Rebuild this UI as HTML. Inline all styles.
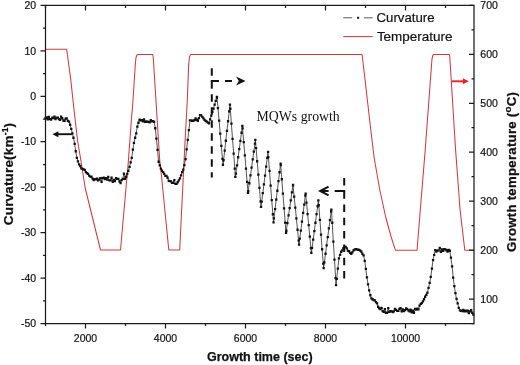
<!DOCTYPE html>
<html lang="en"><head><meta charset="utf-8"><title>Curvature and temperature vs growth time</title>
<style>html,body{margin:0;padding:0;background:#fff}body{width:520px;height:365px;overflow:hidden}svg{display:block}</style></head>
<body>
<svg width="520" height="365" viewBox="0 0 520 365">
<rect width="520" height="365" fill="#fff"/>
<polyline points="45.5,49.2 66.7,49.2 70.8,80.0 73.6,106.0 77.5,140.0 80.8,160.0 85.2,188.0 100.5,250.0 120.5,250.0 128.3,162.0 131.4,120.0 133.0,100.0 135.2,66.0 135.9,58.0 136.9,55.0 138.2,54.4 152.7,54.4 153.2,57.0 155.3,90.0 159.7,160.0 161.5,176.0 168.8,250.0 179.7,250.0 184.6,150.0 187.3,100.0 188.7,64.0 189.5,57.0 190.5,54.6 191.5,54.4 361.8,54.4 362.3,56.0 370.8,130.0 374.2,158.0 379.8,190.0 385.9,218.0 391.0,236.5 395.5,250.3 417.0,250.3 425.2,150.0 431.3,68.0 432.0,59.0 433.0,55.0 434.0,54.4 449.3,54.4 449.8,57.0 455.6,150.0 460.1,210.0 464.8,250.3 474.0,250.3" fill="none" stroke="#cf3a43" stroke-width="1.05" stroke-linejoin="round"/>
<polyline points="45.5,118.3 46.6,117.5 47.7,119.4 48.9,116.8 50.0,119.1 51.1,119.6 52.2,117.8 53.3,118.0 54.5,116.7 55.6,119.2 56.7,117.7 57.8,117.6 58.9,119.1 60.1,119.8 61.2,116.6 62.3,118.2 63.4,120.6 64.5,120.7 65.7,118.6 66.8,118.4 67.9,120.9 69.0,121.6 70.1,124.8 71.3,128.9 72.4,133.3 73.5,137.8 74.6,143.8 75.7,151.3 76.9,157.9 78.0,161.3 79.1,164.5 80.2,166.2 81.3,168.3 82.5,169.0 83.6,169.4 84.7,169.9 85.8,172.1 86.9,173.1 88.1,173.9 89.2,175.6 90.3,176.7 91.4,176.8 92.5,178.6 93.7,180.0 94.8,179.1 95.9,179.3 97.0,178.6 98.1,180.3 99.3,179.5 100.4,178.0 101.5,181.8 102.6,178.1 103.7,177.7 104.9,179.1 106.0,178.1 107.1,179.5 108.2,177.0 109.3,180.4 110.5,180.5 111.6,177.7 112.7,181.8 113.8,179.9 114.9,181.0 116.1,178.1 117.2,178.9 118.3,178.9 119.4,181.4 120.5,183.2 121.7,180.1 122.8,179.0 123.9,173.7 125.0,178.9 126.1,176.7 127.3,174.0 128.4,170.9 129.5,166.8 130.6,162.3 131.7,157.8 132.9,149.6 134.0,142.8 135.1,137.8 136.2,133.4 137.3,126.5 138.5,122.8 139.6,119.8 140.7,120.5 141.8,120.3 142.9,121.3 144.1,119.5 145.2,122.0 146.3,121.4 147.4,121.8 148.5,121.9 149.7,122.3 150.8,120.0 151.9,121.3 153.0,121.2 154.1,121.9 155.3,128.3 156.4,138.6 157.5,149.8 158.6,161.7 159.7,165.3 160.9,168.6 162.0,170.6 163.1,172.0 164.2,173.9 165.3,175.8 166.5,176.0 167.6,177.7 168.7,180.8 169.8,181.2 170.9,181.4 172.1,182.8 173.2,182.8 174.3,180.2 175.4,183.9 176.5,183.9 177.7,182.3 178.8,180.3 179.9,178.4 181.0,175.4 182.1,172.2 183.3,169.5 184.4,165.0 185.5,159.0 186.6,149.5 187.7,139.9 188.9,130.0 190.0,120.3 191.1,120.4 192.2,120.8 193.3,120.9 194.5,120.0 195.6,118.4 196.7,119.7 197.8,120.7 198.9,118.0 200.1,115.2 201.2,115.4 202.3,117.0 203.4,118.3 204.5,119.8 205.7,120.9 206.8,121.5 207.9,122.6 209.0,123.3 210.1,119.4 211.3,115.7 212.4,112.0 213.5,108.7 214.6,104.6 215.7,100.8 216.9,97.7 217.0,97.0 218.0,108.1 219.1,120.6 220.2,133.5 221.3,145.9 222.5,158.9 223.0,165.0 223.6,160.3 224.7,150.5 225.8,140.8 226.9,130.9 228.1,121.3 229.2,111.5 230.0,104.6 230.3,108.8 231.4,123.7 232.5,138.8 233.7,153.6 234.8,168.5 235.4,177.0 235.9,173.5 237.0,165.5 238.1,157.2 239.3,149.1 240.4,140.9 241.5,132.7 242.4,126.0 242.6,128.5 243.7,142.0 244.9,155.3 246.0,168.5 247.1,181.9 248.0,193.0 248.2,191.3 249.3,183.3 250.5,175.5 251.6,167.6 252.7,159.3 253.8,151.6 254.9,143.6 255.4,140.0 256.1,148.2 257.2,161.2 258.3,174.5 259.4,187.9 260.5,201.3 261.0,207.0 261.7,201.6 262.8,193.1 263.9,184.5 265.0,175.6 266.1,166.6 267.3,157.9 268.0,152.0 268.4,157.0 269.5,170.9 270.6,185.6 271.7,200.0 272.9,214.3 273.5,222.3 274.0,218.5 275.1,209.1 276.2,199.6 277.3,190.7 278.5,181.2 279.6,172.2 280.6,163.6 280.7,165.2 281.8,179.2 282.9,193.6 284.1,208.3 285.2,222.6 286.0,233.0 286.3,230.7 287.4,223.0 288.5,215.4 289.7,208.1 290.8,200.4 291.9,192.3 293.0,185.0 293.0,185.4 294.1,196.6 295.3,207.5 296.4,218.5 297.5,229.7 298.6,240.6 299.0,244.6 299.7,238.6 300.9,230.5 302.0,221.7 303.1,212.9 304.2,204.5 305.3,195.6 305.6,193.6 306.5,202.6 307.6,214.1 308.7,225.2 309.8,236.7 310.9,248.2 311.4,253.0 312.1,247.9 313.2,239.7 314.3,231.1 315.4,222.7 316.5,214.2 317.7,206.2 318.4,200.4 318.8,205.3 319.9,219.9 321.0,234.5 322.1,249.3 323.3,263.5 323.6,268.0 324.4,262.4 325.5,253.8 326.6,245.4 327.7,237.0 328.9,228.3 330.0,220.2 331.1,211.7 331.4,209.6 332.2,222.7 333.3,241.6 334.5,259.6 335.6,278.1 336.0,285.0 336.7,278.8 337.8,268.7 338.9,258.4 340.1,254.8 341.2,251.8 342.3,250.3 343.4,248.1 344.5,247.1 345.7,246.9 346.8,248.4 347.9,250.8 349.0,251.2 350.1,252.9 351.3,253.9 352.4,252.4 353.5,250.4 354.6,249.5 355.7,249.1 356.9,249.3 358.0,249.7 359.1,250.0 360.2,250.6 361.3,251.5 362.5,253.9 363.6,255.5 364.7,260.9 365.8,268.8 366.9,277.4 368.1,284.4 369.2,290.4 370.3,295.2 371.4,298.4 372.5,299.2 373.7,300.2 374.8,300.4 375.9,302.2 377.0,303.5 378.1,306.7 379.3,308.4 380.4,309.0 381.5,307.9 382.6,311.2 383.7,311.8 384.9,309.0 386.0,312.7 387.1,312.8 388.2,308.1 389.3,311.9 390.5,311.2 391.6,311.4 392.7,312.1 393.8,311.4 394.9,308.9 396.1,309.9 397.2,310.9 398.3,310.9 399.4,309.0 400.5,308.2 401.7,311.3 402.8,309.3 403.9,311.1 405.0,310.1 406.1,308.3 407.3,309.1 408.4,310.3 409.5,311.4 410.6,309.7 411.7,312.2 412.9,310.7 414.0,312.7 415.1,309.0 416.2,309.6 417.3,308.7 418.5,309.3 419.6,305.5 420.7,303.9 421.8,303.1 422.9,301.4 424.1,299.3 425.2,296.8 426.3,294.9 427.4,292.6 428.5,287.9 429.7,282.8 430.8,276.9 431.9,268.5 433.0,260.0 434.1,254.8 435.3,250.1 436.4,251.6 437.5,250.6 438.6,250.4 439.7,247.9 440.9,252.0 442.0,249.4 443.1,250.9 444.2,249.1 445.3,249.4 446.5,250.2 447.6,251.6 448.7,249.9 449.8,250.7 450.9,257.7 452.1,266.4 453.2,277.6 454.3,286.2 455.4,293.1 456.5,299.0 457.7,303.5 458.8,307.9 459.9,310.4 461.0,310.7 462.1,311.2 463.3,309.8 464.4,311.3 465.5,310.7 466.6,311.2 467.7,310.5 468.9,313.1 470.0,311.3 471.1,310.1 472.2,312.8 473.3,314.7" fill="none" stroke="#2a2a2a" stroke-width="0.8" stroke-linejoin="round"/>
<path d="M44.4 117.1h2.3v2.3h-2.3zM45.5 116.3h2.3v2.3h-2.3zM46.6 118.3h2.3v2.3h-2.3zM47.7 115.7h2.3v2.3h-2.3zM48.8 117.9h2.3v2.3h-2.3zM49.9 118.4h2.3v2.3h-2.3zM51.1 116.6h2.3v2.3h-2.3zM52.2 116.9h2.3v2.3h-2.3zM53.3 115.5h2.3v2.3h-2.3zM54.4 118.0h2.3v2.3h-2.3zM55.5 116.5h2.3v2.3h-2.3zM56.7 116.5h2.3v2.3h-2.3zM57.8 118.0h2.3v2.3h-2.3zM58.9 118.6h2.3v2.3h-2.3zM60.0 115.4h2.3v2.3h-2.3zM61.1 117.1h2.3v2.3h-2.3zM62.3 119.5h2.3v2.3h-2.3zM63.4 119.6h2.3v2.3h-2.3zM64.5 117.5h2.3v2.3h-2.3zM65.6 117.3h2.3v2.3h-2.3zM66.7 119.7h2.3v2.3h-2.3zM67.9 120.5h2.3v2.3h-2.3zM69.0 123.6h2.3v2.3h-2.3zM70.1 127.8h2.3v2.3h-2.3zM71.2 132.2h2.3v2.3h-2.3zM72.3 136.6h2.3v2.3h-2.3zM73.5 142.7h2.3v2.3h-2.3zM74.6 150.1h2.3v2.3h-2.3zM75.7 156.8h2.3v2.3h-2.3zM76.8 160.2h2.3v2.3h-2.3zM78.0 163.3h2.3v2.3h-2.3zM79.1 165.0h2.3v2.3h-2.3zM80.2 167.2h2.3v2.3h-2.3zM81.3 167.8h2.3v2.3h-2.3zM82.4 168.3h2.3v2.3h-2.3zM83.6 168.8h2.3v2.3h-2.3zM84.7 170.9h2.3v2.3h-2.3zM85.8 171.9h2.3v2.3h-2.3zM86.9 172.7h2.3v2.3h-2.3zM88.0 174.5h2.3v2.3h-2.3zM89.2 175.5h2.3v2.3h-2.3zM90.3 175.6h2.3v2.3h-2.3zM91.4 177.5h2.3v2.3h-2.3zM92.5 178.9h2.3v2.3h-2.3zM93.6 177.9h2.3v2.3h-2.3zM94.8 178.2h2.3v2.3h-2.3zM95.9 177.5h2.3v2.3h-2.3zM97.0 179.1h2.3v2.3h-2.3zM98.1 178.4h2.3v2.3h-2.3zM99.2 176.9h2.3v2.3h-2.3zM100.4 180.6h2.3v2.3h-2.3zM101.5 177.0h2.3v2.3h-2.3zM102.6 176.6h2.3v2.3h-2.3zM103.7 178.0h2.3v2.3h-2.3zM104.8 176.9h2.3v2.3h-2.3zM106.0 178.4h2.3v2.3h-2.3zM107.1 175.8h2.3v2.3h-2.3zM108.2 179.2h2.3v2.3h-2.3zM109.3 179.3h2.3v2.3h-2.3zM110.4 176.6h2.3v2.3h-2.3zM111.6 180.6h2.3v2.3h-2.3zM112.7 178.8h2.3v2.3h-2.3zM113.8 179.9h2.3v2.3h-2.3zM114.9 176.9h2.3v2.3h-2.3zM116.0 177.7h2.3v2.3h-2.3zM117.2 177.7h2.3v2.3h-2.3zM118.3 180.3h2.3v2.3h-2.3zM119.4 182.0h2.3v2.3h-2.3zM120.5 178.9h2.3v2.3h-2.3zM121.6 177.8h2.3v2.3h-2.3zM122.8 172.6h2.3v2.3h-2.3zM123.9 177.8h2.3v2.3h-2.3zM125.0 175.6h2.3v2.3h-2.3zM126.1 172.8h2.3v2.3h-2.3zM127.2 169.7h2.3v2.3h-2.3zM128.4 165.7h2.3v2.3h-2.3zM129.5 161.2h2.3v2.3h-2.3zM130.6 156.7h2.3v2.3h-2.3zM131.7 148.4h2.3v2.3h-2.3zM132.8 141.7h2.3v2.3h-2.3zM134.0 136.6h2.3v2.3h-2.3zM135.1 132.3h2.3v2.3h-2.3zM136.2 125.4h2.3v2.3h-2.3zM137.3 121.6h2.3v2.3h-2.3zM138.4 118.6h2.3v2.3h-2.3zM139.6 119.3h2.3v2.3h-2.3zM140.7 119.1h2.3v2.3h-2.3zM141.8 120.2h2.3v2.3h-2.3zM142.9 118.3h2.3v2.3h-2.3zM144.0 120.8h2.3v2.3h-2.3zM145.2 120.3h2.3v2.3h-2.3zM146.3 120.6h2.3v2.3h-2.3zM147.4 120.8h2.3v2.3h-2.3zM148.5 121.1h2.3v2.3h-2.3zM149.6 118.9h2.3v2.3h-2.3zM150.8 120.2h2.3v2.3h-2.3zM151.9 120.1h2.3v2.3h-2.3zM153.0 120.7h2.3v2.3h-2.3zM154.1 127.1h2.3v2.3h-2.3zM155.2 137.4h2.3v2.3h-2.3zM156.4 148.7h2.3v2.3h-2.3zM157.5 160.6h2.3v2.3h-2.3zM158.6 164.2h2.3v2.3h-2.3zM159.7 167.4h2.3v2.3h-2.3zM160.8 169.4h2.3v2.3h-2.3zM162.0 170.9h2.3v2.3h-2.3zM163.1 172.7h2.3v2.3h-2.3zM164.2 174.7h2.3v2.3h-2.3zM165.3 174.8h2.3v2.3h-2.3zM166.4 176.6h2.3v2.3h-2.3zM167.6 179.7h2.3v2.3h-2.3zM168.7 180.0h2.3v2.3h-2.3zM169.8 180.3h2.3v2.3h-2.3zM170.9 181.7h2.3v2.3h-2.3zM172.0 181.6h2.3v2.3h-2.3zM173.2 179.0h2.3v2.3h-2.3zM174.3 182.8h2.3v2.3h-2.3zM175.4 182.7h2.3v2.3h-2.3zM176.5 181.1h2.3v2.3h-2.3zM177.6 179.2h2.3v2.3h-2.3zM178.8 177.2h2.3v2.3h-2.3zM179.9 174.2h2.3v2.3h-2.3zM181.0 171.0h2.3v2.3h-2.3zM182.1 168.4h2.3v2.3h-2.3zM183.2 163.9h2.3v2.3h-2.3zM184.4 157.9h2.3v2.3h-2.3zM185.5 148.3h2.3v2.3h-2.3zM186.6 138.7h2.3v2.3h-2.3zM187.7 128.9h2.3v2.3h-2.3zM188.8 119.2h2.3v2.3h-2.3zM190.0 119.3h2.3v2.3h-2.3zM191.1 119.6h2.3v2.3h-2.3zM192.2 119.7h2.3v2.3h-2.3zM193.3 118.9h2.3v2.3h-2.3zM194.4 117.2h2.3v2.3h-2.3zM195.6 118.6h2.3v2.3h-2.3zM196.7 119.6h2.3v2.3h-2.3zM197.8 116.9h2.3v2.3h-2.3zM198.9 114.0h2.3v2.3h-2.3zM200.0 114.3h2.3v2.3h-2.3zM201.2 115.8h2.3v2.3h-2.3zM202.3 117.2h2.3v2.3h-2.3zM203.4 118.7h2.3v2.3h-2.3zM204.5 119.8h2.3v2.3h-2.3zM205.6 120.4h2.3v2.3h-2.3zM206.8 121.4h2.3v2.3h-2.3zM207.9 122.1h2.3v2.3h-2.3zM209.0 118.2h2.3v2.3h-2.3zM210.1 114.5h2.3v2.3h-2.3zM211.2 110.8h2.3v2.3h-2.3zM212.4 107.5h2.3v2.3h-2.3zM213.5 103.4h2.3v2.3h-2.3zM214.6 99.7h2.3v2.3h-2.3zM215.7 96.6h2.3v2.3h-2.3zM215.8 95.8h2.3v2.3h-2.3zM216.8 107.0h2.3v2.3h-2.3zM218.0 119.4h2.3v2.3h-2.3zM219.1 132.4h2.3v2.3h-2.3zM220.2 144.8h2.3v2.3h-2.3zM221.3 157.7h2.3v2.3h-2.3zM221.8 163.8h2.3v2.3h-2.3zM222.4 159.1h2.3v2.3h-2.3zM223.6 149.4h2.3v2.3h-2.3zM224.7 139.6h2.3v2.3h-2.3zM225.8 129.7h2.3v2.3h-2.3zM226.9 120.1h2.3v2.3h-2.3zM228.0 110.3h2.3v2.3h-2.3zM228.8 103.4h2.3v2.3h-2.3zM229.2 107.6h2.3v2.3h-2.3zM230.3 122.5h2.3v2.3h-2.3zM231.4 137.7h2.3v2.3h-2.3zM232.5 152.4h2.3v2.3h-2.3zM233.6 167.4h2.3v2.3h-2.3zM234.2 175.8h2.3v2.3h-2.3zM234.8 172.4h2.3v2.3h-2.3zM235.9 164.3h2.3v2.3h-2.3zM237.0 156.1h2.3v2.3h-2.3zM238.1 147.9h2.3v2.3h-2.3zM239.2 139.8h2.3v2.3h-2.3zM240.4 131.6h2.3v2.3h-2.3zM241.2 124.8h2.3v2.3h-2.3zM241.5 127.3h2.3v2.3h-2.3zM242.6 140.9h2.3v2.3h-2.3zM243.7 154.2h2.3v2.3h-2.3zM244.8 167.4h2.3v2.3h-2.3zM246.0 180.8h2.3v2.3h-2.3zM246.8 191.8h2.3v2.3h-2.3zM247.1 190.1h2.3v2.3h-2.3zM248.2 182.1h2.3v2.3h-2.3zM249.3 174.3h2.3v2.3h-2.3zM250.4 166.5h2.3v2.3h-2.3zM251.6 158.2h2.3v2.3h-2.3zM252.7 150.4h2.3v2.3h-2.3zM253.8 142.4h2.3v2.3h-2.3zM254.2 138.8h2.3v2.3h-2.3zM254.9 147.0h2.3v2.3h-2.3zM256.0 160.1h2.3v2.3h-2.3zM257.2 173.4h2.3v2.3h-2.3zM258.3 186.8h2.3v2.3h-2.3zM259.4 200.2h2.3v2.3h-2.3zM259.9 205.8h2.3v2.3h-2.3zM260.5 200.5h2.3v2.3h-2.3zM261.6 191.9h2.3v2.3h-2.3zM262.8 183.3h2.3v2.3h-2.3zM263.9 174.5h2.3v2.3h-2.3zM265.0 165.5h2.3v2.3h-2.3zM266.1 156.8h2.3v2.3h-2.3zM266.9 150.8h2.3v2.3h-2.3zM267.2 155.9h2.3v2.3h-2.3zM268.4 169.8h2.3v2.3h-2.3zM269.5 184.4h2.3v2.3h-2.3zM270.6 198.9h2.3v2.3h-2.3zM271.7 213.1h2.3v2.3h-2.3zM272.4 221.2h2.3v2.3h-2.3zM272.8 217.3h2.3v2.3h-2.3zM274.0 207.9h2.3v2.3h-2.3zM275.1 198.5h2.3v2.3h-2.3zM276.2 189.6h2.3v2.3h-2.3zM277.3 180.0h2.3v2.3h-2.3zM278.4 171.1h2.3v2.3h-2.3zM279.5 162.4h2.3v2.3h-2.3zM279.6 164.0h2.3v2.3h-2.3zM280.7 178.1h2.3v2.3h-2.3zM281.8 192.5h2.3v2.3h-2.3zM282.9 207.2h2.3v2.3h-2.3zM284.0 221.4h2.3v2.3h-2.3zM284.9 231.8h2.3v2.3h-2.3zM285.2 229.6h2.3v2.3h-2.3zM286.3 221.9h2.3v2.3h-2.3zM287.4 214.2h2.3v2.3h-2.3zM288.5 207.0h2.3v2.3h-2.3zM289.6 199.3h2.3v2.3h-2.3zM290.8 191.2h2.3v2.3h-2.3zM291.9 183.8h2.3v2.3h-2.3zM291.9 184.2h2.3v2.3h-2.3zM293.0 195.5h2.3v2.3h-2.3zM294.1 206.4h2.3v2.3h-2.3zM295.2 217.3h2.3v2.3h-2.3zM296.4 228.6h2.3v2.3h-2.3zM297.5 239.5h2.3v2.3h-2.3zM297.9 243.4h2.3v2.3h-2.3zM298.6 237.4h2.3v2.3h-2.3zM299.7 229.4h2.3v2.3h-2.3zM300.8 220.5h2.3v2.3h-2.3zM302.0 211.8h2.3v2.3h-2.3zM303.1 203.4h2.3v2.3h-2.3zM304.2 194.4h2.3v2.3h-2.3zM304.5 192.4h2.3v2.3h-2.3zM305.3 201.5h2.3v2.3h-2.3zM306.4 212.9h2.3v2.3h-2.3zM307.6 224.0h2.3v2.3h-2.3zM308.7 235.5h2.3v2.3h-2.3zM309.8 247.0h2.3v2.3h-2.3zM310.2 251.8h2.3v2.3h-2.3zM310.9 246.7h2.3v2.3h-2.3zM312.0 238.5h2.3v2.3h-2.3zM313.2 229.9h2.3v2.3h-2.3zM314.3 221.6h2.3v2.3h-2.3zM315.4 213.0h2.3v2.3h-2.3zM316.5 205.1h2.3v2.3h-2.3zM317.2 199.2h2.3v2.3h-2.3zM317.6 204.1h2.3v2.3h-2.3zM318.8 218.7h2.3v2.3h-2.3zM319.9 233.4h2.3v2.3h-2.3zM321.0 248.1h2.3v2.3h-2.3zM322.1 262.4h2.3v2.3h-2.3zM322.5 266.9h2.3v2.3h-2.3zM323.2 261.3h2.3v2.3h-2.3zM324.4 252.6h2.3v2.3h-2.3zM325.5 244.3h2.3v2.3h-2.3zM326.6 235.9h2.3v2.3h-2.3zM327.7 227.2h2.3v2.3h-2.3zM328.8 219.0h2.3v2.3h-2.3zM330.0 210.5h2.3v2.3h-2.3zM330.2 208.4h2.3v2.3h-2.3zM331.1 221.6h2.3v2.3h-2.3zM332.2 240.4h2.3v2.3h-2.3zM333.3 258.4h2.3v2.3h-2.3zM334.4 276.9h2.3v2.3h-2.3zM334.9 283.9h2.3v2.3h-2.3zM335.6 277.7h2.3v2.3h-2.3zM336.7 267.5h2.3v2.3h-2.3zM337.8 257.3h2.3v2.3h-2.3zM338.9 253.7h2.3v2.3h-2.3zM340.0 250.6h2.3v2.3h-2.3zM341.2 249.2h2.3v2.3h-2.3zM342.3 246.9h2.3v2.3h-2.3zM343.4 246.0h2.3v2.3h-2.3zM344.5 245.8h2.3v2.3h-2.3zM345.6 247.3h2.3v2.3h-2.3zM346.8 249.7h2.3v2.3h-2.3zM347.9 250.1h2.3v2.3h-2.3zM349.0 251.8h2.3v2.3h-2.3zM350.1 252.8h2.3v2.3h-2.3zM351.2 251.3h2.3v2.3h-2.3zM352.4 249.3h2.3v2.3h-2.3zM353.5 248.4h2.3v2.3h-2.3zM354.6 248.0h2.3v2.3h-2.3zM355.7 248.2h2.3v2.3h-2.3zM356.8 248.6h2.3v2.3h-2.3zM358.0 248.8h2.3v2.3h-2.3zM359.1 249.5h2.3v2.3h-2.3zM360.2 250.4h2.3v2.3h-2.3zM361.3 252.7h2.3v2.3h-2.3zM362.4 254.3h2.3v2.3h-2.3zM363.6 259.8h2.3v2.3h-2.3zM364.7 267.7h2.3v2.3h-2.3zM365.8 276.2h2.3v2.3h-2.3zM366.9 283.2h2.3v2.3h-2.3zM368.0 289.3h2.3v2.3h-2.3zM369.2 294.1h2.3v2.3h-2.3zM370.3 297.3h2.3v2.3h-2.3zM371.4 298.1h2.3v2.3h-2.3zM372.5 299.0h2.3v2.3h-2.3zM373.6 299.2h2.3v2.3h-2.3zM374.8 301.0h2.3v2.3h-2.3zM375.9 302.3h2.3v2.3h-2.3zM377.0 305.6h2.3v2.3h-2.3zM378.1 307.2h2.3v2.3h-2.3zM379.2 307.9h2.3v2.3h-2.3zM380.4 306.8h2.3v2.3h-2.3zM381.5 310.0h2.3v2.3h-2.3zM382.6 310.7h2.3v2.3h-2.3zM383.7 307.9h2.3v2.3h-2.3zM384.8 311.6h2.3v2.3h-2.3zM386.0 311.6h2.3v2.3h-2.3zM387.1 306.9h2.3v2.3h-2.3zM388.2 310.8h2.3v2.3h-2.3zM389.3 310.1h2.3v2.3h-2.3zM390.4 310.2h2.3v2.3h-2.3zM391.6 311.0h2.3v2.3h-2.3zM392.7 310.3h2.3v2.3h-2.3zM393.8 307.7h2.3v2.3h-2.3zM394.9 308.8h2.3v2.3h-2.3zM396.0 309.8h2.3v2.3h-2.3zM397.2 309.7h2.3v2.3h-2.3zM398.3 307.8h2.3v2.3h-2.3zM399.4 307.0h2.3v2.3h-2.3zM400.5 310.1h2.3v2.3h-2.3zM401.6 308.2h2.3v2.3h-2.3zM402.8 310.0h2.3v2.3h-2.3zM403.9 308.9h2.3v2.3h-2.3zM405.0 307.2h2.3v2.3h-2.3zM406.1 307.9h2.3v2.3h-2.3zM407.2 309.2h2.3v2.3h-2.3zM408.4 310.3h2.3v2.3h-2.3zM409.5 308.6h2.3v2.3h-2.3zM410.6 311.1h2.3v2.3h-2.3zM411.7 309.6h2.3v2.3h-2.3zM412.8 311.6h2.3v2.3h-2.3zM414.0 307.8h2.3v2.3h-2.3zM415.1 308.4h2.3v2.3h-2.3zM416.2 307.5h2.3v2.3h-2.3zM417.3 308.2h2.3v2.3h-2.3zM418.4 304.4h2.3v2.3h-2.3zM419.6 302.8h2.3v2.3h-2.3zM420.7 301.9h2.3v2.3h-2.3zM421.8 300.2h2.3v2.3h-2.3zM422.9 298.1h2.3v2.3h-2.3zM424.0 295.6h2.3v2.3h-2.3zM425.2 293.7h2.3v2.3h-2.3zM426.3 291.5h2.3v2.3h-2.3zM427.4 286.7h2.3v2.3h-2.3zM428.5 281.7h2.3v2.3h-2.3zM429.6 275.7h2.3v2.3h-2.3zM430.8 267.4h2.3v2.3h-2.3zM431.9 258.9h2.3v2.3h-2.3zM433.0 253.7h2.3v2.3h-2.3zM434.1 249.0h2.3v2.3h-2.3zM435.2 250.5h2.3v2.3h-2.3zM436.4 249.4h2.3v2.3h-2.3zM437.5 249.3h2.3v2.3h-2.3zM438.6 246.8h2.3v2.3h-2.3zM439.7 250.8h2.3v2.3h-2.3zM440.8 248.2h2.3v2.3h-2.3zM442.0 249.7h2.3v2.3h-2.3zM443.1 248.0h2.3v2.3h-2.3zM444.2 248.3h2.3v2.3h-2.3zM445.3 249.1h2.3v2.3h-2.3zM446.4 250.5h2.3v2.3h-2.3zM447.6 248.7h2.3v2.3h-2.3zM448.7 249.6h2.3v2.3h-2.3zM449.8 256.5h2.3v2.3h-2.3zM450.9 265.3h2.3v2.3h-2.3zM452.0 276.4h2.3v2.3h-2.3zM453.2 285.0h2.3v2.3h-2.3zM454.3 292.0h2.3v2.3h-2.3zM455.4 297.8h2.3v2.3h-2.3zM456.5 302.3h2.3v2.3h-2.3zM457.6 306.7h2.3v2.3h-2.3zM458.8 309.2h2.3v2.3h-2.3zM459.9 309.6h2.3v2.3h-2.3zM461.0 310.0h2.3v2.3h-2.3zM462.1 308.7h2.3v2.3h-2.3zM463.2 310.2h2.3v2.3h-2.3zM464.4 309.6h2.3v2.3h-2.3zM465.5 310.1h2.3v2.3h-2.3zM466.6 309.4h2.3v2.3h-2.3zM467.7 311.9h2.3v2.3h-2.3zM468.8 310.2h2.3v2.3h-2.3zM470.0 308.9h2.3v2.3h-2.3zM471.1 311.6h2.3v2.3h-2.3zM472.2 313.5h2.3v2.3h-2.3z" fill="#111"/>
<g stroke="#1c1c1c" stroke-width="1.25" fill="none" stroke-linecap="butt">
<path d="M45.5 4.775V324.125M474.0 4.775V324.125M44.875 5.4H474.625M44.875 323.5H474.625"/>
<path d="M45.5 5.4h-5M45.5 28.1h-2.5M45.5 50.8h-5M45.5 73.6h-2.5M45.5 96.3h-5M45.5 119.0h-2.5M45.5 141.7h-5M45.5 164.5h-2.5M45.5 187.2h-5M45.5 209.9h-2.5M45.5 232.6h-5M45.5 255.3h-2.5M45.5 278.1h-5M45.5 300.8h-2.5M45.5 323.5h-5M474.0 5.4h-5M474.0 29.9h-2.5M474.0 54.3h-5M474.0 78.8h-2.5M474.0 103.3h-5M474.0 127.7h-2.5M474.0 152.2h-5M474.0 176.7h-2.5M474.0 201.2h-5M474.0 225.6h-2.5M474.0 250.1h-5M474.0 274.6h-2.5M474.0 299.0h-5M474.0 323.5h-2.5M45.5 323.5v2.5M45.5 5.4v2.5M85.5 323.5v5M85.5 5.4v5M125.5 323.5v2.5M125.5 5.4v2.5M165.5 323.5v5M165.5 5.4v5M205.5 323.5v2.5M205.5 5.4v2.5M245.5 323.5v5M245.5 5.4v5M285.5 323.5v2.5M285.5 5.4v2.5M325.5 323.5v5M325.5 5.4v5M365.5 323.5v2.5M365.5 5.4v2.5M405.5 323.5v5M405.5 5.4v5M445.5 323.5v2.5M445.5 5.4v2.5"/>
</g>
<g font-family="'Liberation Sans',sans-serif" font-size="10.5" fill="#111" stroke="#111" stroke-width="0.2">
<text x="36.2" y="9.1" text-anchor="end">20</text>
<text x="36.2" y="54.5" text-anchor="end">10</text>
<text x="36.2" y="100.0" text-anchor="end">0</text>
<text x="36.2" y="145.4" text-anchor="end">-10</text>
<text x="36.2" y="190.9" text-anchor="end">-20</text>
<text x="36.2" y="236.3" text-anchor="end">-30</text>
<text x="36.2" y="281.8" text-anchor="end">-40</text>
<text x="36.2" y="327.2" text-anchor="end">-50</text>
<text x="480.3" y="9.1">700</text>
<text x="480.3" y="58.0">600</text>
<text x="480.3" y="107.0">500</text>
<text x="480.3" y="155.9">400</text>
<text x="480.3" y="204.9">300</text>
<text x="480.3" y="253.8">200</text>
<text x="480.3" y="302.7">100</text>
<text x="85.5" y="341.8" text-anchor="middle">2000</text>
<text x="165.5" y="341.8" text-anchor="middle">4000</text>
<text x="245.5" y="341.8" text-anchor="middle">6000</text>
<text x="325.5" y="341.8" text-anchor="middle">8000</text>
<text x="405.5" y="341.8" text-anchor="middle">10000</text>
</g>
<g font-family="'Liberation Sans',sans-serif" font-weight="bold" fill="#111" stroke="#111" stroke-width="0.25">
<text x="259.8" y="361.3" font-size="12.5" text-anchor="middle">Growth time (sec)</text>
<text transform="translate(13.4 225.2) rotate(-90)" font-size="13.5" letter-spacing="0.17">Curvature(km<tspan font-size="8.5" dy="-5.5">-1</tspan><tspan dy="5.5">)</tspan></text>
<text transform="translate(516.3 252) rotate(-90)" font-size="13.2" letter-spacing="0.27">Growth temperature (<tspan font-size="9.8" dy="-5.2">o</tspan><tspan dy="5.2">C)</tspan></text>
</g>
<g font-family="'Liberation Sans',sans-serif" font-size="13.2" fill="#111" stroke="#111" stroke-width="0.2">
<text x="376.6" y="22.4">Curvature</text>
<text x="376.9" y="41" textLength="75.6" lengthAdjust="spacingAndGlyphs">Temperature</text>
</g>
<path d="M343.3 17.8H352.2M363.9 17.8H372.7" stroke="#444" stroke-width="0.9"/>
<rect x="357.1" y="16.8" width="2" height="2" fill="#111"/>
<path d="M343.3 36.6H372.7" stroke="#cf3a43" stroke-width="1.05"/>
<text x="256.6" y="120.9" font-family="'Liberation Serif',serif" font-size="13.8" fill="#111">MQWs growth</text>
<g stroke="#111" stroke-width="2" fill="none">
<path d="M211.8 68.2V177.5" stroke-dasharray="7.6 5.4"/>
<path d="M210.8 81H219M225 81H232"/>
<path d="M344.2 177.9V279.5" stroke-dasharray="7.5 5.8"/>
<path d="M345.2 191H334.7"/>
</g>
<path d="M245.6 81L236 76.4L238.8 81L236 85.6Z" fill="#111"/>
<path d="M328.6 186.6L320.2 191L328.6 195.4M320.2 191H328.6" fill="none" stroke="#111" stroke-width="2"/>
<path d="M72 134.2H56" stroke="#111" stroke-width="1.9"/><path d="M52.4 134.2L58.4 131.2V137.2Z" fill="#111"/>
<path d="M451.8 81.3H464" stroke="#e8212b" stroke-width="1.9"/><path d="M468.8 81.3L462.8 78.3V84.3Z" fill="#e8212b"/>
</svg>
</body></html>
